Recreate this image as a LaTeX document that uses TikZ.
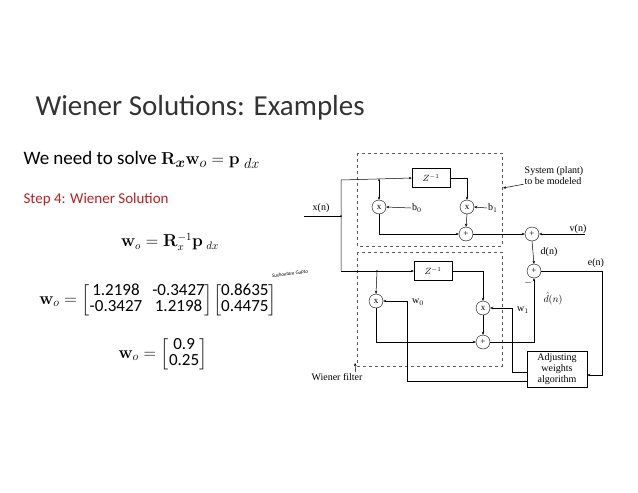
\documentclass[tikz,border=0pt]{standalone}
\usepackage{amsmath,bm}
\usepackage[no-math]{fontspec}
\setmainfont{Carlito}
\newfontfamily\diag{Liberation Serif}
\usetikzlibrary{arrows.meta}
\begin{document}
\begin{tikzpicture}[x=1pt,y=-1pt,
  circ/.style={draw,circle,inner sep=0pt,minimum size=14pt,font=\diag\fontsize{9}{9}\selectfont},
  blk/.style={draw,minimum width=38pt,minimum height=19pt,inner sep=0pt,font=\diag\fontsize{9}{9}\selectfont},
  lab/.style={font=\diag\fontsize{10}{11}\selectfont,inner sep=1pt},
  ln/.style={line width=0.5pt},
  ar/.style={line width=0.5pt,-{Stealth[length=3pt,width=2.5pt]}},
  dbox/.style={draw,dashed,line width=0.5pt,gray!70!black}]
\useasboundingbox (0,0) rectangle (638,493);
\fill[white] (0,0) rectangle (638,493);
% left text
\node[anchor=west,font=\fontsize{29}{32}\selectfont,text=black!80] (title) at (32,108) {Wiener Solutions: Examples};
\node[anchor=west,font=\fontsize{19}{22}\selectfont] (t1) at (20,160) {We need to solve $\mathbf{R}_{\bm{x}}\mathbf{w}_o=\mathbf{p}\ _{dx}$};
\node[anchor=west,font=\fontsize{15}{17}\selectfont,text={rgb,255:red,192;green,30;blue,30}] (t2) at (20,199) {Step 4: Wiener Solution};
\node[font=\fontsize{16}{18}\selectfont] (e1) at (170,242) {$\mathbf{w}_o=\mathbf{R}_x^{-1}\mathbf{p}\ _{dx}$};
\node[font=\fontsize{17}{18}\selectfont] (e2) at (158,300) {$\mathbf{w}_o=\renewcommand{\arraystretch}{0.8}\begin{bmatrix}\text{1.2198} & \text{-0.3427}\\ \text{-0.3427} & \text{1.2198}\end{bmatrix}\!\begin{bmatrix}\text{0.8635}\\ \text{0.4475}\end{bmatrix}$};
\node[font=\fontsize{17}{18}\selectfont] (e3) at (163,354) {$\mathbf{w}_o=\renewcommand{\arraystretch}{0.8}\begin{bmatrix}\text{0.9}\\ \text{0.25}\end{bmatrix}$};
\node[font=\itshape\fontsize{5}{5}\selectfont,rotate=8] (sg) at (290,274) {Sushantam Gupta};
% dashed boxes
\draw[dbox] (357,153) rectangle (502,246);
\draw[dbox] (357,252) rectangle (502,366);
% nodes
\node[blk] (z1) at (431,178) {$Z^{-1}$};
\node[blk] (z2) at (433,271) {$Z^{-1}$};
\node[circ] (m0) at (379,207) {x};
\node[circ] (m1) at (467,207) {x};
\node[circ] (a1) at (466,234) {+};
\node[circ] (av) at (532,234) {+};
\node[circ] (ae) at (534,271) {+};
\node[circ] (w0m) at (376,301) {x};
\node[circ] (w1m) at (483,308) {x};
\node[circ] (a2) at (483,342) {+};
\node[draw,align=center,font=\diag\fontsize{10}{11}\selectfont,minimum width=60pt,minimum height=36pt,inner sep=1pt] (alg) at (557,369) {Adjusting\\weights\\algorithm};
% labels
\node[lab] (xn) at (321,208) {x(n)};
\node[lab,anchor=west] (b0) at (411,208) {b$_0$};
\node[lab,anchor=west] (b1) at (487,208) {b$_1$};
\node[lab] (vn) at (578,229) {v(n)};
\node[lab] (dn) at (549,252) {d(n)};
\node[lab] (en) at (596,263) {e(n)};
\node[lab] (dh) at (553,299) {$\hat{d}(n)$};
\node[lab] (mi) at (528,283) {$-$};
\node[lab,anchor=west] (w0) at (411,302) {w$_0$};
\node[lab,anchor=west] (w1) at (516,310) {w$_1$};
\node[lab,align=left] (sys) at (554,176) {System (plant)\\to be modeled};
\node[lab] (wf) at (337,377) {Wiener filter};
\coordinate (xin) at (304,216);
\coordinate (j1) at (341,216);
\coordinate (vin) at (585,234);
% connectors
\draw[ln] (xin) -- (j1);
\draw[ar] (341,271) -- (341,180) -- (z1.west);
\draw[ar] (379,180) -- (m0.north);
\draw[ar] (z1.east) -| (m1.north);
\draw[ar] (b0.west) -- (m0.east);
\draw[ar] (b1.west) -- (m1.east);
\draw[ar] (m1.south) -- (a1.north);
\draw[ar] (m0.south) |- (a1.west);
\draw[ar] (a1.east) -- (av.west);
\draw[ar] (vin) -- (av.east);
\draw[ar] (av.south) -- (ae.north);
\draw[ar] (341,271) -- (z2.west);
\draw[ar] (377,271) -- (w0m.north);
\draw[ar] (z2.east) -| (w1m.north);
\draw[ar] (w1m.south) -- (a2.north);
\draw[ar] (w0m.south) |- (a2.west);
\draw[ar] (a2.east) -| (ae.south);
\draw[ar] (ae.east) -- (602,271) -- (602,375) -- (alg.east |- 0,375);
\draw[ar] (alg.west |- 0,381) -- (407,381) -- (407,301) -- (w0m.east);
\draw[ar] (alg.west |- 0,372) -- (512,372) -- (512,308) -- (w1m.east);
\draw[ar] (sys.south west) ++(0,-2) -- (503,188);
\draw[ar] (wf.north east) ++(-8,0) -- (355,363);
\foreach \p in {(341,216),(379,180),(377,271)} \fill \p circle (1pt);
\end{tikzpicture}
\end{document}
